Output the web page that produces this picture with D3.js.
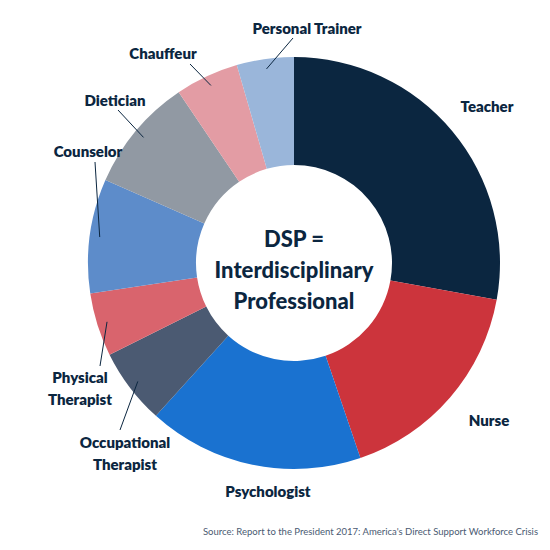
<!DOCTYPE html>
<html><head><meta charset="utf-8">
<script src="https://cdn.jsdelivr.net/npm/d3@7"></script>
<style>body{margin:0;background:#fff}text{font-family:Lato,"Open Sans",sans-serif}</style>
</head><body><svg id="c" width="550" height="550"></svg>
<script>
const categories=["Teacher","Nurse","Psychologist","Occupational Therapist","Physical Therapist","Counselor","Dietician","Chauffeur","Personal Trainer"];
const values=[28,17,17,6,5,9,9,5,4.5];
const colors=["#0b2640","#cc343c","#1a72d0","#4b5a72","#d9646d","#5d8cca","#9199a3","#e39ca4","#9ab6da"];
// label layout (page coords of label centre, and leader-line start)
const labelPos=[[487,107],[489,421],[268,492],[125,443],[80,378],[88,152],[115,101],[163,54],[307,29]];
const lineStart=[null,null,null,[120,430],[100,366],[95,162],[118,110],[190,64],[293,38]];

const svg=d3.select("#c");
const cx=294,cy=263,R=206,r0=98;
const g=svg.append("g").attr("transform",`translate(${cx},${cy})`);
const pie=d3.pie().sort(null).value(d=>d)(values);
const arc=d3.arc().innerRadius(r0).outerRadius(R);
g.selectAll("path.s").data(pie).join("path").attr("d",arc).attr("fill",(d,i)=>colors[i]);
pie.forEach((d,i)=>{
  const a=(d.startAngle+d.endAngle)/2;
  if(lineStart[i]){
    const e=R-10;
    svg.append("line").attr("x1",lineStart[i][0]).attr("y1",lineStart[i][1])
     .attr("x2",cx+Math.sin(a)*e).attr("y2",cy-Math.cos(a)*e)
     .attr("stroke","#0b2640").attr("stroke-width",1);
  }
  const words=categories[i].split(" ");
  const lines=(words.length>1&&categories[i]!=="Personal Trainer")?words:[categories[i]];
  const [x,y]=labelPos[i];
  const t=svg.append("text").attr("text-anchor","middle").attr("font-size",15).attr("font-weight",800).attr("fill","#0b2640");
  lines.forEach((w,k)=>t.append("tspan").attr("x",x).attr("y",y+5+k*22).text(w));
});
const ct=g.append("text").attr("text-anchor","middle").attr("font-size",22).attr("font-weight",900).attr("fill","#0b2640");
["DSP =","Interdisciplinary","Professional"].forEach((w,k)=>ct.append("tspan").attr("x",0).attr("y",-16+k*31).text(w));
svg.append("text").attr("x",538).attr("y",535).attr("text-anchor","end").attr("font-size",9.5).attr("fill","#4a5a72")
 .text("Source: Report to the President 2017: America's Direct Support Workforce Crisis");
</script></body></html>
